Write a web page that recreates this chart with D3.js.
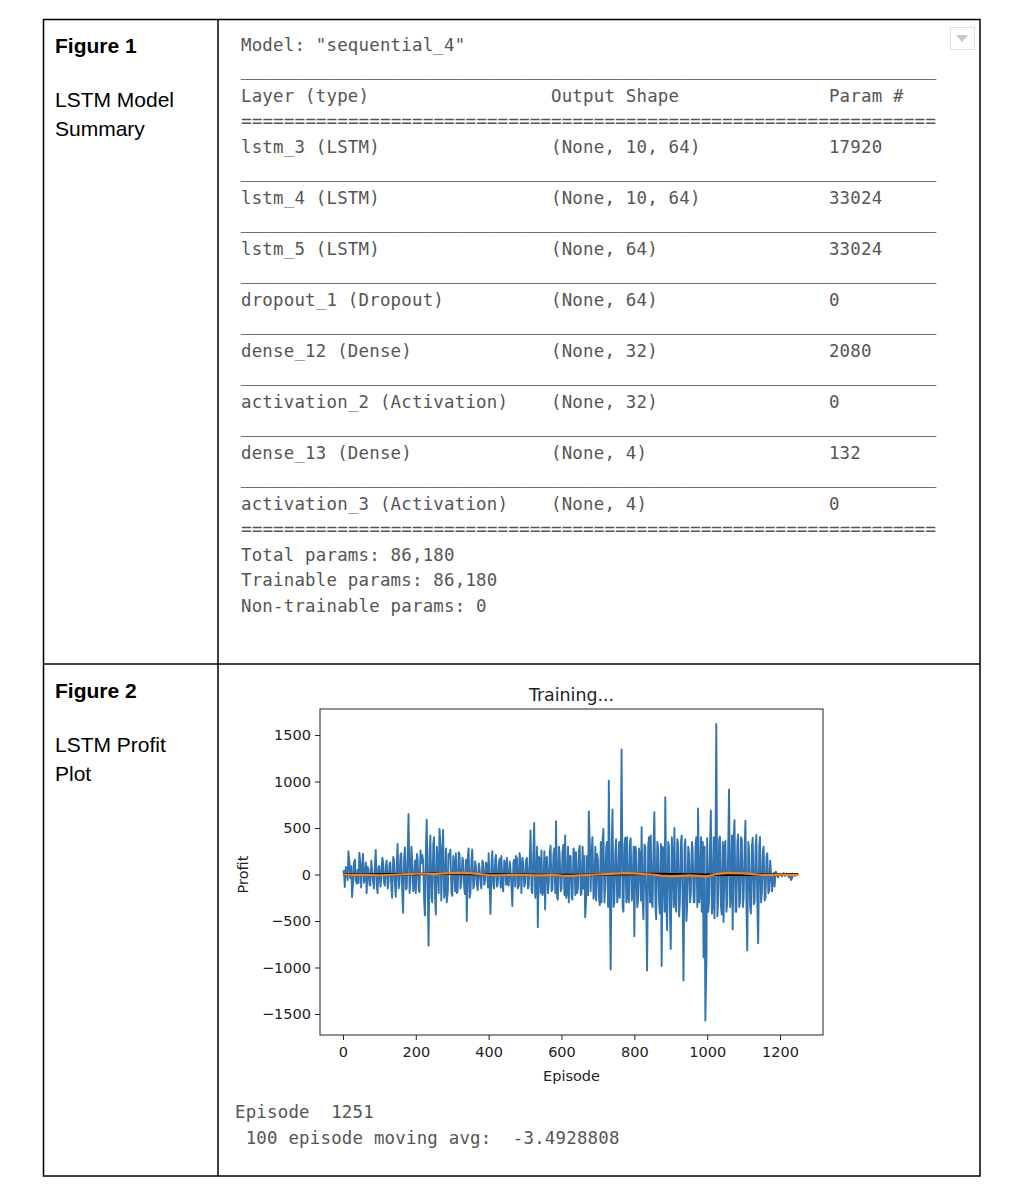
<!DOCTYPE html>
<html>
<head>
<meta charset="utf-8">
<script src="https://cdn.jsdelivr.net/npm/d3@7"></script>
<style>
  body { margin: 0; background: #fff; }
</style>
</head>
<body>
<svg id="page" width="1030" height="1198"></svg>
<script>
// model summary rows
const modelName = "sequential_4"
const layerNames = ["lstm_3 (LSTM)", "lstm_4 (LSTM)", "lstm_5 (LSTM)", "dropout_1 (Dropout)",
  "dense_12 (Dense)", "activation_2 (Activation)", "dense_13 (Dense)", "activation_3 (Activation)"]
const outputShapes = ["(None, 10, 64)", "(None, 10, 64)", "(None, 64)", "(None, 64)",
  "(None, 32)", "(None, 32)", "(None, 4)", "(None, 4)"]
const paramCounts = ["17920", "33024", "33024", "0", "2080", "0", "132", "0"]
const totals = ["Total params: 86,180", "Trainable params: 86,180", "Non-trainable params: 0"]

// profit per episode, read at episodes 0, 5, 10, ...
const episodeStep = 5
const profit = [
  20, -135, 60, 250, -40, -245, 120, -60, 50, 235,
  -140, 225, -30, -200, 60, -120, 40, -150, 265, -200,
  90, -60, 140, -120, 150, -80, 130, -250, 160, -240,
  330, -100, 230, -410, 290, -150, 650, -90, 170, -130,
  -200, 180, -190, 120, 150, -440, 590, -765, 420, -300,
  400, -430, 120, 490, -280, 480, -200, -300, 220, 270,
  -230, 130, 230, -180, 220, -90, 150, -210, -500, 280,
  -200, 270, -120, 90, -170, 70, -150, 120, -60, 100,
  230, -425, 250, -150, 210, -100, 170, 200, -180, 120,
  180, -120, 60, -340, 160, 200, -150, 230, -200, 120,
  -100, 180, -120, 473, -200, 555, -150, -566, 180, 260,
  -180, -375, 190, -100, 310, -160, 280, 573, -270, 220,
  -150, 320, 420, -200, -300, 200, -270, 240, 240, -150,
  310, -200, -150, -460, 200, 677, -180, 400, -200, -280,
  160, -330, -300, 490, -150, 350, 1010, -1021, 700, -300,
  380, -200, -250, 1344, -400, 395, 400, -300, 390, -200,
  -663, 250, -300, 200, 510, -480, 300, -1032, 400, 420,
  -350, 670, -480, 300, -420, -985, 250, 831, -600, 300,
  -800, 200, 500, -400, 340, -300, 420, -1140, 380, -350,
  230, -200, 280, -300, 400, 710, -200, -400, -890, -1570,
  390, -300, 688, -350, -470, 1620, -300, 410, -430, -510,
  360, -300, 914, -250, -590, 585, -400, 430, -300, 380,
  -250, 580, -817, 250, -420, 395, -300, 425, -740, 405,
  -200, 300, -250, 230, -180, 40, -60, -130, 25, -30,
  10, -20, 15, -10, 5, -30, -60, 10, -15, 5, -5
]

// profit read at the episodes in between: 3, 8, 13, ...
const midOffset = 3
const profitMid = [
  40, 80, -60, 120, 90, -80, 160, -100, -90, 110,
  100, -90, 130, 80, -110, 150, -80, 120, -120, 90,
  -130, 180, -90, 100, -150, 120, -130, 190, -120, 140,
  -150, 210, -200, 180, -160, 250, -200, 300, -180, 150,
  220, -160, 260, 210, -280, 300, -200, 250, -260, 320,
  -250, 300, -200, 310, 200, -250, 280, -180, 200, -200,
  200, -180, -200, 240, -150, 180, -150, 160, 200, -250,
  160, -150, 140, -120, 120, -100, 150, -110, 130, -140,
  -150, 130, -120, 160, -130, 120, -140, -120, 150, -110,
  -100, 140, -150, 130, -130, 170, -120, 120, 180, -130,
  160, -150, 200, -180, 260, -250, 300, 190, -200, -220,
  250, 180, -200, 240, -180, 220, -200, -250, 300, -180,
  250, -220, -250, 300, 200, -250, 280, -220, -200, 260,
  -220, 300, 200, -250, -220, 300, 250, -260, 300, 220,
  -250, 350, 380, -300, 300, -350, -250, 300, -350, 250,
  -300, 350, 300, -350, 320, -300, -250, 350, -280, 300,
  300, -350, 280, -280, -300, 320, -400, 300, -300, -300,
  350, -350, 350, -300, 330, 300, -400, -350, 350, -450,
  400, -350, -300, 380, -450, 350, -400, 300, -500, 300,
  -300, 350, -300, 300, -350, -300, 400, 350, 300, -900,
  -400, 350, -420, 400, 300, -450, 380, -350, 350, 300,
  -400, 350, -350, 420, 400, -400, 350, -350, 400, -350,
  300, -380, 350, -350, 300, -320, 300, -380, 300, -300,
  250, -280, 200, -200, 150, -180, 20, 30, -20, 10,
  -10, 5, -15, 10, -20, 8, -40, 5, -10, 0
]

// 100 episode moving average, every 25 episodes
const avgStep = 25
const movingAvg = [
  0, -5, -3, -5, -8, -5, 0, 5, 8, 8,
  5, 12, 15, 18, 15, 5, -5, -8, -5, -3,
  -5, -10, -8, -5, -12, -15, -8, -5, 0, 5,
  10, 15, 12, 5, 0, -12, -18, -15, -10, -15,
  -20, 5, 15, 15, 12, 5, -5, -3, -2, -3, -3.5
]

// long running mean, every 50 episodes
const meanStep = 50
const runningMean = [0, -2, 0, 3, 5, 8, 8, 6, 2, 0, -2, -4, -5, -4, -2, 2, 5, 5, 3, 0, -2, -4, -3, 0, 2, 3]

const yTicks = [-1500, -1000, -500, 0, 500, 1000, 1500]
const xTicks = [0, 200, 400, 600, 800, 1000, 1200]
const footer = ["Episode  1251", " 100 episode moving avg:  -3.4928808"]

const svg = d3.select("#page")
const mono = "'DejaVu Sans Mono', 'Liberation Mono', monospace"
const sans = "'Liberation Sans', Arial, sans-serif"
const mpl = "'DejaVu Sans', sans-serif"
const monoSize = 17.4
const charW = 10.69
const spacing = (charW - monoSize * 0.602) + "px"

// table frame
const frame = svg.append("g").attr("stroke", "#000").attr("stroke-width", 1.5).attr("fill", "none")
frame.append("rect").attr("x", 43.5).attr("y", 19.5).attr("width", 936.5).attr("height", 1156.5)
frame.append("line").attr("x1", 218).attr("x2", 218).attr("y1", 19.5).attr("y2", 1176)
frame.append("line").attr("x1", 43.5).attr("x2", 980).attr("y1", 664).attr("y2", 664)

// left captions
const captions = [
  {y: 53, text: "Figure 1", bold: true}, {y: 107, text: "LSTM Model"}, {y: 136, text: "Summary"},
  {y: 698, text: "Figure 2", bold: true}, {y: 752, text: "LSTM Profit"}, {y: 781, text: "Plot"}
]
svg.append("g").selectAll("text").data(captions).enter().append("text")
  .attr("x", 55).attr("y", d => d.y)
  .style("font-family", sans).style("font-size", "21px")
  .style("font-weight", d => d.bold ? "bold" : "normal")
  .text(d => d.text)

// dropdown icon
const icon = svg.append("g")
icon.append("rect").attr("x", 950.5).attr("y", 27.5).attr("width", 24).attr("height", 22)
  .attr("fill", "#fff").attr("stroke", "#e0e0e0")
icon.append("path").attr("d", "M956,35 L968,35 L962,42 Z").attr("fill", "#c8c8c8")

// model summary text
const lineH = 25.5
const textX = 241
const rows = []
rows.push([`Model: "${modelName}"`])
rows.push(["rule_"])
rows.push(["Layer (type)", "Output Shape", "Param #"])
rows.push(["rule="])
layerNames.forEach((name, i) => {
  rows.push([name, outputShapes[i], paramCounts[i]])
  rows.push([i === layerNames.length - 1 ? "rule=" : "rule_"])
})
totals.forEach(t => rows.push([t]))

const cols = [0, 29, 55]
const summary = svg.append("g").attr("fill", "#555")
  .style("font-family", mono).style("font-size", monoSize + "px")
rows.forEach((row, k) => {
  const base = 45 + k * lineH + 5.5
  if (row[0] === "rule_" || row[0] === "rule=") {
    summary.append("text")
      .attr("x", textX).attr("y", base)
      .attr("textLength", 65 * charW).attr("lengthAdjust", "spacingAndGlyphs")
      .attr("fill", row[0] === "rule_" ? "#333" : "#555")
      .attr("stroke", row[0] === "rule_" ? "#555" : "none").attr("stroke-width", 0.4)
      .text((row[0] === "rule_" ? "_" : "=").repeat(65))
    return
  }
  row.forEach((cell, c) => {
    summary.append("text")
      .attr("x", textX + cols[c] * charW).attr("y", base)
      .style("letter-spacing", spacing)
      .text(cell)
  })
})

// profit plot
const plot = {left: 320, right: 823, top: 709, bottom: 1035}
const xScale = d3.scaleLinear().domain([-63, 1318]).range([plot.left, plot.right])
const yScale = d3.scaleLinear().domain([-1726, 1780]).range([plot.bottom, plot.top])
const minus = d => d < 0 ? "\u2212" + Math.abs(d) : String(d)

const profitSeries = profit.map((v, i) => ({ep: i * episodeStep, v}))
  .concat(profitMid.map((v, i) => ({ep: i * episodeStep + midOffset, v})))
  .sort((a, b) => a.ep - b.ep)

const chart = svg.append("g")

const profitLine = d3.line()
  .x(d => xScale(d.ep))
  .y(d => yScale(d.v))
chart.append("path")
  .datum(profitSeries)
  .attr("d", profitLine)
  .attr("fill", "none").attr("stroke", "#3274b2").attr("stroke-width", 1.9)
  .attr("stroke-linejoin", "round")

chart.append("path")
  .datum(runningMean)
  .attr("d", d3.line().x((d, i) => xScale(i * meanStep)).y(d => yScale(d)))
  .attr("fill", "none").attr("stroke", "#000").attr("stroke-width", 2.4)

chart.append("path")
  .datum(movingAvg)
  .attr("d", d3.line().x((d, i) => xScale(Math.min(i * avgStep, 1251))).y(d => yScale(d)))
  .attr("fill", "none").attr("stroke", "#ff7f0e").attr("stroke-width", 2.2)

const yAxis = chart.append("g")
  .attr("transform", `translate(${plot.left},0)`)
  .call(d3.axisLeft(yScale).tickValues(yTicks).tickSize(5).tickPadding(4).tickFormat(minus))
const xAxis = chart.append("g")
  .attr("transform", `translate(0,${plot.bottom})`)
  .call(d3.axisBottom(xScale).tickValues(xTicks).tickSize(5).tickPadding(7).tickFormat(minus))
;[xAxis, yAxis].forEach(ax => {
  ax.select(".domain").remove()
  ax.selectAll("text").style("font-family", mpl).style("font-size", "14.5px").attr("fill", "#222")
  ax.selectAll("line").attr("stroke", "#222")
})

chart.append("rect")
  .attr("x", plot.left).attr("y", plot.top)
  .attr("width", plot.right - plot.left).attr("height", plot.bottom - plot.top)
  .attr("fill", "none").attr("stroke", "#222").attr("stroke-width", 1)

chart.append("text")
  .attr("x", (plot.left + plot.right) / 2).attr("y", 701)
  .attr("text-anchor", "middle")
  .style("font-family", mpl).style("font-size", "17.4px").attr("fill", "#222")
  .text("Training...")
chart.append("text")
  .attr("x", (plot.left + plot.right) / 2).attr("y", 1081)
  .attr("text-anchor", "middle")
  .style("font-family", mpl).style("font-size", "14.5px").attr("fill", "#222")
  .text("Episode")
chart.append("text")
  .attr("transform", `translate(248,${yScale(0)}) rotate(-90)`)
  .attr("text-anchor", "middle")
  .style("font-family", mpl).style("font-size", "14.5px").attr("fill", "#222")
  .text("Profit")

// printed output under the plot
svg.append("g").attr("fill", "#555")
  .style("font-family", mono).style("font-size", monoSize + "px")
  .selectAll("text").data(footer).enter().append("text")
  .attr("x", 235).attr("y", (d, i) => 1118 + i * 26)
  .style("white-space", "pre")
  .style("letter-spacing", spacing)
  .text(d => d)
</script>
</body>
</html>
